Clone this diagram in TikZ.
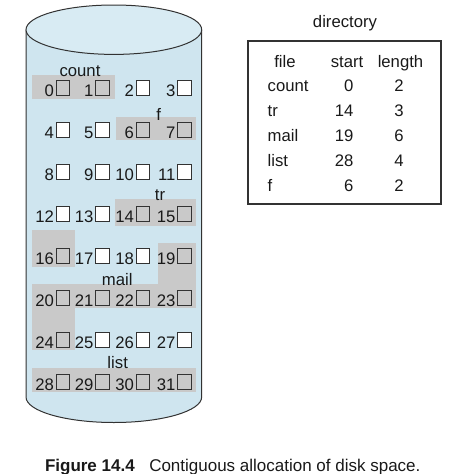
\documentclass[tikz,border=0pt]{standalone}
\usepackage{fontspec}
\setmainfont{Liberation Sans}
\definecolor{cyl}{RGB}{207,229,239}
\definecolor{cyltop}{RGB}{216,235,243}
\definecolor{band}{RGB}{201,201,201}
\definecolor{edge}{RGB}{50,50,50}
\definecolor{txt}{RGB}{25,25,25}
\begin{document}
\begin{tikzpicture}[x=1pt,y=-1pt,
  every node/.style={font=\fontsize{16.7}{20}\selectfont, text=txt, inner sep=0pt, outer sep=0pt},
  blk/.style={draw=edge, line width=0.8pt, minimum width=13.5pt, minimum height=15pt, anchor=south west, fill=white},
  gblk/.style={blk, fill=band},
  num/.style={anchor=base east},
  lbl/.style={anchor=base},
  outline/.style={draw=edge, line width=1pt},
  bandfill/.style={fill=band}]
\useasboundingbox (0,0) rectangle (474,474);
% cylinder body
\fill[cyl] (26,29.7) -- (26,397) .. controls (26,411.08) and (65.33,422.5) .. (113.85,422.5)
  .. controls (162.37,422.5) and (201.7,411.08) .. (201.7,397) -- (201.7,29.7) -- cycle;
\draw[outline] (26,29.7) -- (26,397) .. controls (26,411.08) and (65.33,422.5) .. (113.85,422.5)
  .. controls (162.37,422.5) and (201.7,411.08) .. (201.7,397) -- (201.7,29.7);
\draw[outline, fill=cyltop] (113.85,29.7) ellipse [x radius=87.85, y radius=24.7];
% allocated regions
\fill[bandfill] (32,75) rectangle (114.5,98.5);
\fill[bandfill] (116,117) rectangle (196,140.4);
\fill[bandfill] (114.5,199.3) rectangle (196,226);
\fill[bandfill] (32,230) rectangle (75,266.5);
\fill[bandfill] (157.5,243) rectangle (196,285);
\fill[bandfill] (32,283.5) rectangle (196,307.5);
\fill[bandfill] (32,307) rectangle (75,350);
\fill[bandfill] (32,368.3) rectangle (196,391.8);
% blocks
\foreach \r in {0,...,7} {
  \foreach \c/\xl in {0/56,1/95.5,2/136,3/177.5} {
    \pgfmathtruncatemacro{\i}{4*\r+\c}
    \pgfmathsetmacro{\b}{96.5+41.93*\r}
    \node[num] (n\i) at (\xl-2,\b) {\i};
    \node[blk] (b\i) at (\xl,\b-1) {};
  }
}
\foreach \i in {0,1,6,7,14,15,16,19,20,21,22,23,24,28,29,30,31} {
  \path[fill=band, draw=edge, line width=0.8pt] (b\i.south west) rectangle (b\i.north east);
}
% file labels
\node[lbl] (lcount) at (80,76.7) {count};
\node[lbl] (lf) at (158.7,120) {f};
\node[lbl] (ltr) at (160,200) {tr};
\node[lbl] (lmail) at (117.3,285) {mail};
\node[lbl] (llist) at (117.7,368) {list};
% directory
\node[lbl] (dirtitle) at (345,27) {directory};
\node[draw=edge, line width=1.3pt, minimum width=193pt, minimum height=163pt] (dir) at (344.5,122.5) {};
\node[lbl] (hfile) at (285,67) {file};
\node[lbl] (hstart) at (347,67) {start};
\node[lbl] (hlength) at (400.5,67) {length};
\foreach \k/\nm/\st/\ln in {1/count/0/2, 2/tr/14/3, 3/mail/19/6, 4/list/28/4, 5/f/6/2} {
  \pgfmathsetmacro{\yy}{67+24.8*\k}
  \node[anchor=base west] (dn\k) at (267.7,\yy) {\nm};
  \node[anchor=base east] (ds\k) at (353.5,\yy) {\st};
  \node[anchor=base] (dl\k) at (399,\yy) {\ln};
}
% caption
\node[anchor=base west, font=\fontsize{17}{20}\selectfont] (cap) at (45,471.5)
  {\textbf{Figure 14.4}\hspace{14.5pt}Contiguous allocation of disk space.};
\end{tikzpicture}
\end{document}
